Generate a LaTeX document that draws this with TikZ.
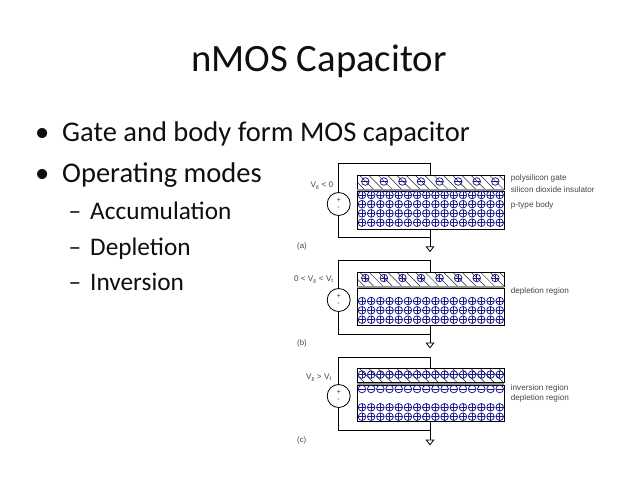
\documentclass[tikz,border=0pt]{standalone}
\usepackage{fontspec}
\setmainfont{Carlito}
\newfontfamily\labelfont{Liberation Sans}
\usetikzlibrary{calc}
\definecolor{chargeblue}{RGB}{25,25,140}
\definecolor{labelgray}{RGB}{70,70,70}
\definecolor{titlegray}{RGB}{15,15,15}
\tikzset{
  wire/.style={draw=black,line width=0.8pt},
  chargebase/.style={circle,draw=chargeblue,line width=0.75pt,minimum size=7.6pt,inner sep=0pt},
  poscharge/.style={chargebase,path picture={
    \draw[chargeblue,line width=0.7pt] (path picture bounding box.west)--(path picture bounding box.east);
    \draw[chargeblue,line width=0.7pt] (path picture bounding box.north)--(path picture bounding box.south);}},
  negcharge/.style={chargebase,path picture={
    \draw[chargeblue,line width=0.7pt] (path picture bounding box.west)--(path picture bounding box.east);}},
  layerbox/.style={rectangle,draw=black,line width=0.8pt,inner sep=0pt,anchor=north west},
  gatebox/.style={layerbox,minimum width=147pt,minimum height=14pt,
    path picture={
      \foreach \k in {-2,...,16}{
        \draw[black!85,line width=0.5pt] ([xshift={2.3pt+\k*9.29pt}]path picture bounding box.north west) -- ++(14pt,-14pt);}
    }},
  oxidebar/.style={rectangle,fill=gray!85,inner sep=0pt,minimum width=147pt,minimum height=2.2pt,anchor=north west},
  sourcenode/.style={circle,draw=black,line width=0.8pt,minimum size=23pt,inner sep=0pt},
  sign/.style={inner sep=0pt,font=\labelfont\fontsize{7.5}{7.5}\selectfont,text=labelgray},
  lab/.style={inner sep=0pt,anchor=west,font=\labelfont\fontsize{8.15}{9}\selectfont,text=labelgray},
  vlab/.style={inner sep=0pt,font=\labelfont\fontsize{8.2}{9}\selectfont,text=labelgray},
  tag/.style={inner sep=0pt,anchor=west,font=\labelfont\fontsize{7.8}{9}\selectfont,text=labelgray},
  groundtri/.style={draw=black,line width=0.8pt,line join=miter},
  title/.style={inner sep=0pt,anchor=base,font=\fontsize{38.7}{42}\selectfont,text=titlegray},
  bulletitem/.style={inner sep=0pt,anchor=base west,font=\fontsize{28.5}{32}\selectfont,text=titlegray},
  subitem/.style={inner sep=0pt,anchor=base west,font=\fontsize{25.3}{30}\selectfont,text=titlegray},
}
% #1 prefix, #2 gate top, #3 body bottom, #4 wire top, #5 source y, #6 wire bottom, #7 ground y
\newcommand{\capframe}[7]{%
  \node[gatebox] (#1gate) at (357,#2) {};
  \node[oxidebar] (#1ox) at (357,#2+14) {};
  \node[layerbox,minimum width=147pt,minimum height={(#3-#2-16.2)*1pt}] (#1body) at (357,#2+16.2) {};
  \node[sourcenode] (#1src) at (338.7,#5) {};
  \node[sign] (#1plus) at (338.7,#5-4) {+};
  \node[sign] (#1minus) at (338.7,#5+4) {-};
  \coordinate (#1tl) at (338.7,#4);
  \coordinate (#1tr) at (430,#4);
  \coordinate (#1gt) at (430,#2);
  \coordinate (#1bl) at (338.7,#6);
  \coordinate (#1br) at (430,#6);
  \coordinate (#1bt) at (430,#3);
  \coordinate (#1g) at (430,#7);
  \draw[wire] (#1src.north) -- (#1tl) -- (#1tr) -- (#1gt);
  \draw[wire] (#1src.south) -- (#1bl) -- (#1br) -- (#1bt);
  \draw[wire] (#1br) -- (#1g);
  \draw[groundtri] ($(#1g)+(-3.7,0)$) -- ($(#1g)+(3.7,0)$) -- ($(#1g)+(0,4.8)$) -- cycle;
}
% #1 row name, #2 style, #3 y
\newcommand{\bodyrow}[3]{\foreach \c in {0,...,15}{\node[#2] (#1\c) at ({362+\c*9.18},#3) {};}}
\newcommand{\gaterow}[3]{\foreach \c in {0,...,7}{\node[#2] (#1\c) at ({365.3+\c*18.57},#3) {};}}
\begin{document}
\begin{tikzpicture}[x=1pt,y=-1pt]
\useasboundingbox[fill=white] (0,0) rectangle (638,479);
\node[title] (ttl) at (319,71) {nMOS Capacitor};
\node[bulletitem] (b1) at (35,141) {•};
\node[bulletitem] (t1) at (62,141) {Gate and body form MOS capacitor};
\node[bulletitem] (b2) at (35,182) {•};
\node[bulletitem] (t2) at (62,182) {Operating modes};
\node[subitem] (d1) at (68.5,219.5) {–};
\node[subitem] (s1) at (90,219.5) {Accumulation};
\node[subitem] (d2) at (68.5,255) {–};
\node[subitem] (s2) at (90,255) {Depletion};
\node[subitem] (d3) at (68.5,290) {–};
\node[subitem] (s3) at (90,290) {Inversion};

\capframe{a}{175}{228.7}{163.7}{204}{237.3}{246.7}
\capframe{b}{271.7}{325.3}{260}{300}{334.3}{343}
\capframe{c}{368.3}{421.3}{357.3}{396}{430}{440}

\gaterow{ga}{negcharge}{181.5}
\bodyrow{ra}{poscharge}{195}\bodyrow{rb}{poscharge}{204.2}\bodyrow{rc}{poscharge}{213.4}\bodyrow{rd}{poscharge}{222.7}

\gaterow{gb}{poscharge}{278}
\bodyrow{re}{poscharge}{301}\bodyrow{rf}{poscharge}{310.3}\bodyrow{rg}{poscharge}{319.7}

\bodyrow{rh}{poscharge}{374.6}
\bodyrow{ri}{negcharge}{389}
\bodyrow{rj}{poscharge}{407.3}\bodyrow{rk}{poscharge}{416.7}

\node[vlab] (va) at (322,185.5) {V$_{\mathrm{g}}$ < 0};
\node[vlab] (vb) at (314,279.5) {0 < V$_{\mathrm{g}}$ < V$_{\mathrm{t}}$};
\node[vlab] (vc) at (319,377.5) {V$_{\mathrm{g}}$ > V$_{\mathrm{t}}$};
\node[tag] (ta) at (297,246.5) {(a)};
\node[tag] (tb) at (297,343.5) {(b)};
\node[tag] (tc) at (297,440) {(c)};
\node[lab] (l1) at (510.7,178) {polysilicon gate};
\node[lab] (l2) at (510.7,190) {silicon dioxide insulator};
\node[lab] (l3) at (510.7,205.7) {p-type body};
\node[lab] (l4) at (510.7,291.5) {depletion region};
\node[lab] (l5) at (510.7,388.5) {inversion region};
\node[lab] (l6) at (510.7,398.5) {depletion region};
\end{tikzpicture}
\end{document}
